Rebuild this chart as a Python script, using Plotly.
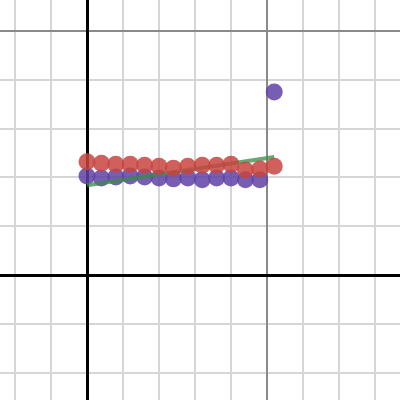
import plotly.graph_objects as go

red_x = [0, 0.4, 0.8, 1.2, 1.6, 2.0, 2.4, 2.8, 3.2, 3.6, 4.0, 4.4, 4.8, 5.2]
red_y = [2.32, 2.29, 2.27, 2.27, 2.25, 2.23, 2.19, 2.23, 2.25, 2.25, 2.27, 2.15, 2.17, 2.23]
pur_x = [0, 0.4, 0.8, 1.2, 1.6, 2.0, 2.4, 2.8, 3.2, 3.6, 4.0, 4.4, 4.8, 5.2]
pur_y = [2.03, 1.99, 2.01, 2.03, 2.01, 1.99, 1.97, 1.99, 1.95, 1.99, 1.99, 1.95, 1.95, 3.75]
fit_x = [0, 5.2]
fit_y = [1.84, 2.42]

fig = go.Figure()
fig.add_trace(go.Scatter(x=pur_x, y=pur_y, mode="markers",
                         marker=dict(size=17, color="#6042a6", opacity=0.85, line=dict(width=0))))
fig.add_trace(go.Scatter(x=fit_x, y=fit_y, mode="lines",
                         line=dict(color="#388c46", width=4), opacity=0.75))
fig.add_trace(go.Scatter(x=red_x, y=red_y, mode="markers",
                         marker=dict(size=17, color="#c74440", opacity=0.85, line=dict(width=0))))

ax = dict(showticklabels=False, ticks="", dtick=5, tick0=0, showgrid=True,
          gridcolor="#8a8a8a", gridwidth=1.6,
          minor=dict(dtick=1, showgrid=True, gridcolor="#d6d6d6", gridwidth=1.6),
          zeroline=True, zerolinecolor="black", zerolinewidth=2.8, showline=False)
fig.update_layout(width=400, height=400, margin=dict(l=0, r=0, t=0, b=0),
                  plot_bgcolor="white", paper_bgcolor="white", showlegend=False,
                  xaxis=dict(ax, range=[-2.417, 8.694]),
                  yaxis=dict(ax, range=[-2.561, 5.635]))
fig.write_html("out.html", config={"displayModeBar": False},
               post_script="document.body.style.margin='0';document.body.style.padding='0';")
